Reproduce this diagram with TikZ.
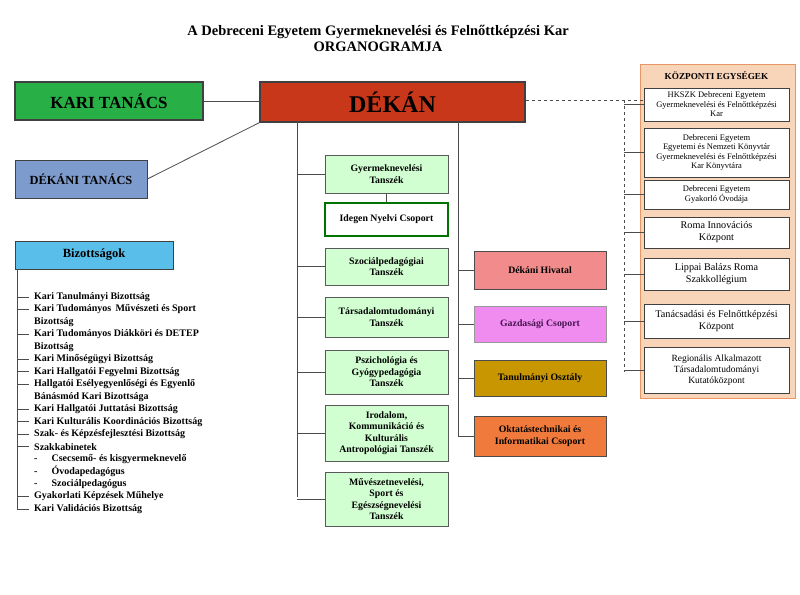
\documentclass[tikz,border=0pt]{standalone}
\usepackage{fontspec}
\setmainfont{Liberation Serif}
\begin{document}
\begin{tikzpicture}[x=1pt,y=-1pt,
  box/.style={draw=black!75,line width=0.8pt,align=center,inner sep=1pt,font=\bfseries\fontsize{9.8}{11.5}\selectfont},
  gbox/.style={box,fill=green!18,draw=black!65,minimum width=123pt},
  rbox/.style={box,minimum width=132pt,draw=black!70},
  kbox/.style={draw=black!75,fill=white,line width=0.7pt,align=center,minimum width=145pt,inner sep=1pt,font=\fontsize{8.5}{9.5}\selectfont},
  kbig/.style={kbox,font=\fontsize{10.2}{12}\selectfont},
  ln/.style={draw=black!70,line width=0.8pt},
  item/.style={anchor=west,inner sep=0pt,font=\bfseries\fontsize{10}{11}\selectfont}]
\useasboundingbox (0,0) rectangle (800,594);
\node[font=\bfseries\fontsize{14.5}{16}\selectfont,align=center] (title) at (378,38) {A Debreceni Egyetem Gyermeknevelési és Felnőttképzési Kar\\ORGANOGRAMJA};
% top
\node[box,fill={rgb,255:red,40;green,175;blue,70},line width=1.4pt,minimum width=188pt,minimum height=38pt,font=\bfseries\fontsize{17}{19}\selectfont] (kt) at (109,101) {KARI TANÁCS};
\node[box,fill={rgb,255:red,200;green,55;blue,25},line width=1.2pt,minimum width=265pt,minimum height=40pt,font=\bfseries\fontsize{24}{26}\selectfont] (dekan) at (392.5,102) {DÉKÁN};
\node[box,fill={rgb,255:red,125;green,155;blue,205},minimum width=132pt,minimum height=38pt,font=\bfseries\fontsize{12.4}{14}\selectfont] (dt) at (81,179) {DÉKÁNI TANÁCS};
\draw[ln] (kt.east) -- (dekan.west |- kt.east);
\draw[ln] (dt.east) -- (dekan.south west);
% Bizottsagok
\node[box,fill={rgb,255:red,90;green,190;blue,235},minimum width=158pt,minimum height=28pt,font=\bfseries\fontsize{12.5}{14}\selectfont] (biz) at (94,255) {Bizottságok};
\coordinate (bt) at (17,269);
\coordinate (bb) at (17,509);
\draw[ln] (bt) -- (bb);
\foreach \t [count=\i from 0] in {
 Kari Tanulmányi Bizottság,
 Kari Tudományos\, Művészeti és Sport,
 Bizottság,
 Kari Tudományos Diákköri és DETEP,
 Bizottság,
 Kari Minőségügyi Bizottság,
 Kari Hallgatói Fegyelmi Bizottság,
 Hallgatói Esélyegyenlőségi és Egyenlő,
 Bánásmód Kari Bizottsága,
 Kari Hallgatói Juttatási Bizottság,
 Kari Kulturális Koordinációs Bizottság,
 Szak- és Képzésfejlesztési Bizottság,
 Szakkabinetek,
 {-\hspace{14pt}Csecsemő- és kisgyermeknevelő},
 {-\hspace{14pt}Óvodapedagógus},
 {-\hspace{14pt}Szociálpedagógus},
 Gyakorlati Képzések Műhelye,
 Kari Validációs Bizottság}
 { \node[item] (it\i) at (34,297+\i*12.47) {\t}; }
\foreach \i in {0,1,3,5,6,7,9,10,11,12,16,17} { \draw[ln] (bt |- it\i.west) -- ++(12,0); }
% center trunk
\coordinate (ta) at (297,122);
\coordinate (tb) at (297,497);
\draw[ln] (ta) -- (tb);
\node[gbox,minimum height=38pt] (g1) at (386.5,174) {Gyermeknevelési\\Tanszék};
\node[box,fill=white,draw=green!45!black,line width=1.5pt,minimum width=123pt,minimum height=33pt] (g2) at (386.5,219.5) {Idegen Nyelvi Csoport};
\node[gbox,minimum height=37pt] (g3) at (386.5,266.5) {Szociálpedagógiai\\Tanszék};
\node[gbox,minimum height=40pt] (g4) at (386.5,317) {Társadalomtudományi\\Tanszék};
\node[gbox,minimum height=44pt] (g5) at (386.5,372) {Pszichológia és\\Gyógypedagógia\\Tanszék};
\node[gbox,minimum height=56pt] (g6) at (386.5,433) {Irodalom,\\Kommunikáció és\\Kulturális\\Antropológiai Tanszék};
\node[gbox,minimum height=54pt] (g7) at (386.5,499) {Művészetnevelési,\\Sport és\\Egészségnevelési\\Tanszék};
\draw[ln] (g1) -- (g2);
\foreach \g in {g1,g3,g4,g5,g6,g7} { \draw[ln] (ta |- \g.west) -- (\g.west); }
% right trunk
\coordinate (sa) at (458,122);
\coordinate (sb) at (458,436);
\draw[ln] (sa) -- (sb);
\node[rbox,fill={rgb,255:red,242;green,140;blue,140},minimum height=38pt] (r1) at (540,270) {Dékáni Hivatal};
\node[rbox,fill={rgb,255:red,240;green,140;blue,240},draw=black!40,minimum height=36pt,text={rgb,255:red,70;green,20;blue,80}] (r2) at (540,324) {Gazdasági Csoport};
\node[rbox,fill={rgb,255:red,200;green,150;blue,0},minimum height=36pt] (r3) at (540,378) {Tanulmányi Osztály};
\node[rbox,fill={rgb,255:red,240;green,122;blue,60},minimum height=40pt] (r4) at (540,436) {Oktatástechnikai és\\Informatikai Csoport};
\foreach \r in {r1,r2,r3,r4} { \draw[ln] (sa |- \r.west) -- (\r.west); }
% central units panel
\node[draw={rgb,255:red,232;green,150;blue,100},fill={rgb,255:red,248;green,212;blue,185},line width=1pt,minimum width=155pt,minimum height=333pt,inner sep=0pt] (panel) at (717.5,231.5) {};
\node[font=\bfseries\fontsize{9.2}{11}\selectfont] (ptitle) at (716.5,76) {KÖZPONTI EGYSÉGEK};
\node[kbox,minimum height=33pt] (k1) at (716.5,104.5) {HKSZK Debreceni Egyetem\\Gyermeknevelési és Felnőttképzési\\Kar};
\node[kbox,minimum height=49pt] (k2) at (716.5,152.5) {Debreceni Egyetem\\Egyetemi és Nemzeti Könyvtár\\Gyermeknevelési és Felnőttképzési\\Kar Könyvtára};
\node[kbox,minimum height=29pt] (k3) at (716.5,194.5) {Debreceni Egyetem\\Gyakorló Óvodája};
\node[kbig,minimum height=31pt] (k4) at (716.5,232.5) {Roma Innovációs\\Központ};
\node[kbig,minimum height=32pt] (k5) at (716.5,274) {Lippai Balázs Roma\\Szakkollégium};
\node[kbig,minimum height=34pt] (k6) at (716.5,321) {Tanácsadási és Felnőttképzési\\Központ};
\node[kbox,font=\fontsize{9.5}{11}\selectfont,minimum height=46pt] (k7) at (716.5,370) {Regionális Alkalmazott\\Társadalomtudományi\\Kutatóközpont};
\coordinate (da) at (624,100);
\coordinate (db) at (624,372);
\draw[ln,dashed,line width=0.7pt] (dekan.east |- da) -- (k1.west |- da);
\draw[ln,dashed,line width=0.7pt] (da) -- (db);
\foreach \k in {k1,k2,k3,k4,k5,k6,k7} { \draw[ln,line width=0.7pt] (da |- \k.west) -- (\k.west); }
\end{tikzpicture}
\end{document}
